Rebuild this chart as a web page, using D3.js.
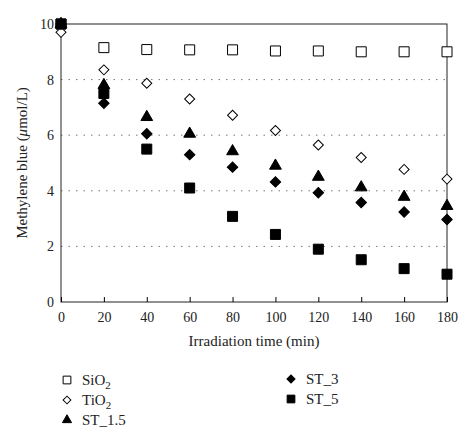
<!DOCTYPE html>
<html><head><meta charset="utf-8">
<script src="https://cdn.jsdelivr.net/npm/d3@7"></script>
<style>body{margin:0;background:#fff}text{font-family:"Liberation Serif",serif;fill:#222}</style>
</head><body><svg id="c" width="474" height="446"></svg>
<script>
const times = [0, 20, 40, 60, 80, 100, 120, 140, 160, 180];
const sio2 = [10, 9.15, 9.08, 9.07, 9.07, 9.03, 9.03, 9.0, 9.0, 9.0];
const tio2 = [9.7, 8.35, 7.87, 7.3, 6.72, 6.17, 5.65, 5.2, 4.77, 4.42];
const st15 = [10, 7.8, 6.65, 6.05, 5.42, 4.9, 4.5, 4.12, 3.78, 3.45];
const st3 = [10, 7.15, 6.05, 5.3, 4.85, 4.32, 3.93, 3.58, 3.24, 2.97];
const st5 = [10, 7.5, 5.5, 4.1, 3.08, 2.43, 1.9, 1.52, 1.2, 1.0];
const yTicks = [0, 2, 4, 6, 8, 10];

const series = [
  {name: "SiO", sub: "2", vals: sio2, sym: d3.symbolSquare, fill: "#fff", size: 100, rot: 0},
  {name: "TiO", sub: "2", vals: tio2, sym: d3.symbolSquare, fill: "#fff", size: 50, rot: 45},
  {name: "ST_1.5", vals: st15, sym: d3.symbolTriangle, fill: "#000", size: 60, rot: 0},
  {name: "ST_3", vals: st3, sym: d3.symbolSquare, fill: "#000", size: 55, rot: 45},
  {name: "ST_5", vals: st5, sym: d3.symbolSquare, fill: "#000", size: 100, rot: 0}
];

const svg = d3.select("#c");
const L = 61, R = 447, T = 24, B = 302;
const x = d3.scaleLinear().domain([0, 180]).range([L, R]);
const y = d3.scaleLinear().domain([0, 10]).range([B, T]);

// dotted grid
svg.append("g").selectAll("line").data([2, 4, 6, 8]).join("line")
  .attr("x1", L).attr("x2", R).attr("y1", d => y(d)).attr("y2", d => y(d))
  .attr("stroke", "#777").attr("stroke-dasharray", "1.5,6");

svg.append("rect").attr("x", L).attr("y", T).attr("width", R - L).attr("height", B - T)
  .attr("fill", "none").attr("stroke", "#222").attr("stroke-width", 1);

const xa = svg.append("g").attr("transform", `translate(0,${B})`)
  .call(d3.axisBottom(x).tickValues(times).tickSizeInner(-5).tickSizeOuter(0).tickPadding(10));
xa.select(".domain").remove();
xa.selectAll("text").attr("font-size", 14).style("font-family", "Liberation Serif");

const ya = svg.append("g").attr("transform", `translate(${L},0)`)
  .call(d3.axisLeft(y).tickValues(yTicks).tickSize(0).tickPadding(7));
ya.select(".domain").remove();
ya.selectAll("text").attr("font-size", 14).style("font-family", "Liberation Serif");

svg.append("text").attr("x", (L + R) / 2).attr("y", 346).attr("text-anchor", "middle")
  .attr("font-size", 15).text("Irradiation time (min)");
const yl = svg.append("text").attr("transform", `translate(27,${(T + B) / 2}) rotate(-90)`)
  .attr("text-anchor", "middle").attr("font-size", 15);
yl.append("tspan").text("Methylene blue (");
yl.append("tspan").attr("font-style", "italic").text("μ");
yl.append("tspan").text("mol/L)");

series.forEach(s => {
  svg.append("g").selectAll("path").data(s.vals).join("path")
    .attr("transform", (d, i) => `translate(${x(times[i])},${y(d)}) rotate(${s.rot})`)
    .attr("d", d3.symbol().type(s.sym).size(s.size))
    .attr("fill", s.fill).attr("stroke", "#000").attr("stroke-width", 1);
});

const legPos = [[67, 380], [67, 400], [67, 420], [291, 379], [291, 399]];
series.forEach((s, i) => {
  const [lx, ly] = legPos[i];
  svg.append("path").attr("transform", `translate(${lx},${ly}) rotate(${s.rot})`)
    .attr("d", d3.symbol().type(s.sym).size(s.size * 0.6))
    .attr("fill", s.fill).attr("stroke", "#000");
  const t = svg.append("text").attr("x", lx + 15).attr("y", ly + 5).attr("font-size", 15).text(s.name);
  if (s.sub) t.append("tspan").attr("font-size", 11).attr("dy", 4).text(s.sub);
});
</script></body></html>
